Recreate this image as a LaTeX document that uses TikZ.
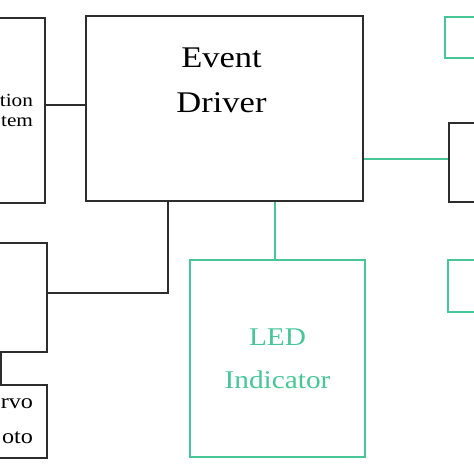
\documentclass[tikz,border=0pt]{standalone}
\usepackage{fontspec}
\usepackage{xcolor}
\usepackage{tikz}
\usetikzlibrary{positioning}

\setmainfont[FakeStretch=1.15]{Liberation Serif}
\definecolor{ledgreen}{RGB}{72,198,152}
\definecolor{boxgray}{RGB}{45,45,45}

\begin{document}
\begin{tikzpicture}[
  x=1pt, y=-1pt,
  blk/.style={rectangle, draw=boxgray, line width=2pt, inner sep=0pt},
  grn/.style={rectangle, draw=ledgreen, line width=2pt, inner sep=0pt},
  wire/.style={draw=boxgray, line width=2pt},
  gwire/.style={draw=ledgreen, line width=2pt},
  node distance=33pt
]
  \useasboundingbox (0,0) rectangle (474,474);
  \clip (0,0) rectangle (474,474);

  % left column
  \node[blk, minimum width=75pt, minimum height=185pt, inner xsep=12pt, text width=51pt, align=right,
        font=\fontsize{18.5}{20}\selectfont] (loc) at (7.5,110.5) {tion\\tem};
  \node[blk, minimum width=92pt, minimum height=109pt] (mid) at (1,297.5) {};
  \node[blk, minimum width=92pt, minimum height=73pt, inner xsep=14pt, text width=64pt, align=right,
        font=\fontsize{21}{35}\selectfont] (servo) at (1,421.5) {rvo\\oto};

  % centre
  \node[blk, minimum width=277pt, minimum height=185pt] (driver) at (224.5,108.5) {};
  \node[inner sep=0pt, align=center, font=\fontsize{30}{45}\selectfont, below=33pt of driver.north, xshift=-3pt] (drvlbl) {Event\\Driver};
  \node[grn, minimum width=175pt, minimum height=197pt, align=center, text=ledgreen,
        font=\fontsize{25.5}{43}\selectfont] (led) at (277.5,358.5) {LED\\Indicator};

  % right column
  \node[grn, minimum width=75pt, minimum height=41pt] (gtop) at (482.5,37.5) {};
  \node[blk, minimum width=71pt, minimum height=79pt] (rbox) at (484.5,162.5) {};
  \node[grn, minimum width=72pt, minimum height=52pt] (gbot) at (484,286) {};

  \coordinate (rin) at ([yshift=3.5pt]rbox.west);
  \coordinate (ledin) at ([xshift=-2.5pt]led.north);

  \draw[wire] ([yshift=5.5pt]loc.east) -- ([yshift=5.5pt]loc.east -| driver.west);
  \draw[wire] ([yshift=4.5pt]mid.east) -| ([xshift=-56.5pt]driver.south);
  \draw[wire] (mid.south) -- (servo.north);
  \draw[gwire] (ledin) -- (ledin |- driver.south);
  \draw[gwire] (rin) -- (rin -| driver.east);
\end{tikzpicture}
\end{document}
